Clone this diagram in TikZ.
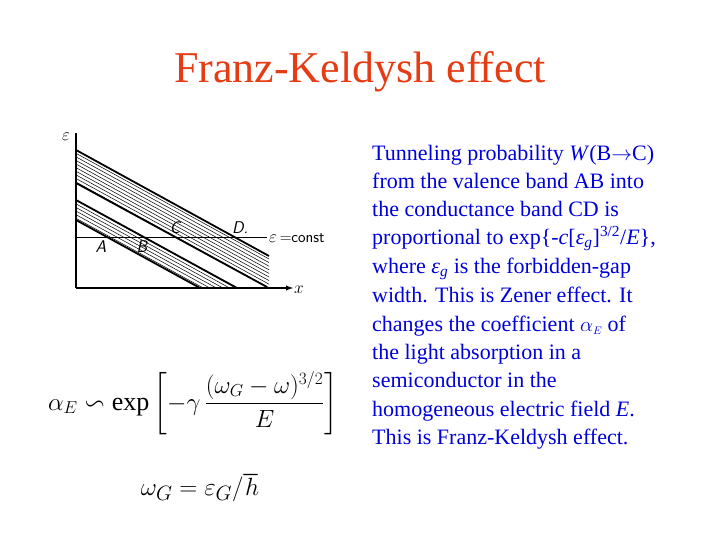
\documentclass[tikz,border=0pt]{standalone}
\usepackage{amsmath,amssymb}
\usepackage{fontspec}
\setmainfont{Liberation Serif}
\begin{document}
\begin{tikzpicture}[x=1pt,y=-1pt,
  txt/.style={anchor=base west,inner sep=0,text=blue!85!black,font=\fontsize{22}{24}\selectfont},
  lbl/.style={inner sep=0,font=\sffamily\itshape\fontsize{17}{17}\selectfont},
  band/.style={line width=1.8pt},
  hatch/.style={line width=0.5pt}]
\useasboundingbox (0,0) rectangle (720,540);
\node[text={rgb,255:red,230;green,60;blue,20},font=\fontsize{44}{48}\selectfont,inner sep=0] (title) at (360,72) {Franz-Keldysh effect};
% axes
\coordinate (o) at (76,288);
\coordinate (ytop) at (76,133);
\coordinate (xend) at (293,288);
\draw[line width=1.8pt] (ytop) -- (o);
\draw[line width=1.4pt,-latex] (o) -- (xend);
\node[lbl,font=\itshape\fontsize{16}{12}\selectfont] (eps) at (66,137) {$\varepsilon$};
\node[lbl,font=\itshape\fontsize{18}{12}\selectfont] (xl) at (299,290) {$x$};
% hatching
\begin{scope}
\clip (76,150) -- (269,256) -- (269,288) -- (76,183) -- cycle;
\foreach \k in {0,...,10} \draw[hatch] (70,150+3.6*\k) -- ++(210,115);
\end{scope}
\begin{scope}
\clip (76,200) -- (237,288) -- (200,288) -- (76,220) -- cycle;
\foreach \k in {0,...,6} \draw[hatch] (70,197+3.6*\k) -- ++(210,115);
\end{scope}
\draw[band] (76,150) -- (269,256);
\draw[band] (76,183) -- (267,287);
\draw[band] (76,200) -- (237,288);
\draw[band] (76,220) -- (200,288);
% constant line
\coordinate (cl) at (76,237);
\coordinate (cr) at (267,237);
\draw[line width=0.8pt] (cl) -- (cr);
\node[lbl,anchor=west,font=\sffamily\fontsize{16}{14}\selectfont] (ec) at (269,238) {$\varepsilon$\,=const};
\node[lbl] (A) at (101,247) {A};
\node[lbl] (B) at (142,247) {B};
\node[lbl] (C) at (175,228) {C};
\node[lbl] (D) at (240,228) {D.};
% formulas
\node[anchor=base west,inner sep=0,font=\fontsize{26}{28}\selectfont] (f1) at (48,410)
 {$\alpha_E \backsim \mathrm{exp}\left[-\gamma\,\dfrac{(\omega_G-\omega)^{3/2}}{E}\right]$};
\node[anchor=base,inner sep=0,font=\fontsize{28}{30}\selectfont] (f2) at (200,495)
 {$\omega_G = \varepsilon_G/\hbar$};
% text
\node[txt] (l1) at (372,161) {Tunneling probability \textit{W}(B$\rightarrow$C)};
\node[txt] (l2) at (372,189) {from the valence band AB into};
\node[txt] (l3) at (372,216) {the conductance band CD is};
\node[txt] (l4) at (372,244) {proportional to exp\{-\textit{c}[\textit{ε\textsubscript{g}}]\textsuperscript{3/2}/\textit{E}\},};
\node[txt] (l5) at (372,273) {where \textit{ε\textsubscript{g}} is the forbidden-gap};
\node[txt] (l6) at (372,302) {width. This is Zener effect. It};
\node[txt] (l7) at (372,331) {changes the coefficient $\alpha_{\scriptscriptstyle E}$ of};
\node[txt] (l8) at (372,359) {the light absorption in a};
\node[txt] (l9) at (372,387) {semiconductor in the};
\node[txt] (l10) at (372,416) {homogeneous electric field \textit{E}.};
\node[txt] (l11) at (372,444) {This is Franz-Keldysh effect.};
\end{tikzpicture}
\end{document}
